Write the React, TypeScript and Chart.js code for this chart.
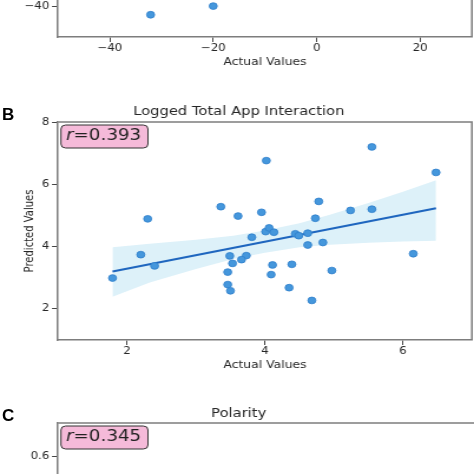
import React, { useEffect, useRef } from "react";
import { Chart, registerables } from "chart.js";

Chart.register(...registerables);
Chart.defaults.font.family = "'DejaVu Sans', sans-serif";

// ---------- data ----------
// Panel A (only its bottom strip is visible)
const A_X = [-32.1, -20.0];
const A_Y = [-42.8, -39.8];
const A_X_TICKS = [-40, -20, 0, 20];
const A_Y_TICKS = [-40, -20, 0, 20];

// Panel B
const B_TITLE = "Logged Total App Interaction";
const B_X = [1.79, 2.2, 2.3, 2.4, 3.36, 3.61, 3.95, 4.78, 4.73, 3.81, 4.01, 4.06, 4.13, 4.44, 4.49, 4.62, 4.62, 4.84, 3.49, 3.73, 3.66, 3.53, 3.46, 4.11, 4.39, 4.09, 4.97, 3.46, 3.5, 4.35, 4.68, 5.55, 4.02, 6.48, 5.24, 5.55, 6.15];
const B_Y = [2.99, 3.74, 4.89, 3.38, 5.28, 4.98, 5.1, 5.45, 4.91, 4.3, 4.48, 4.6, 4.46, 4.41, 4.35, 4.43, 4.05, 4.13, 3.7, 3.71, 3.58, 3.46, 3.18, 3.41, 3.43, 3.1, 3.23, 2.78, 2.58, 2.68, 2.27, 7.2, 6.76, 6.38, 5.16, 5.2, 3.77];
const B_LINE_X = [1.79, 6.48];
const B_LINE_Y = [3.2, 5.23];
const B_BAND_X = [1.79, 2.33, 3.0, 3.54, 4.0, 4.5, 4.94, 5.5, 6.0, 6.48];
const B_BAND_UPPER = [3.98, 4.09, 4.22, 4.35, 4.52, 4.75, 5.02, 5.4, 5.76, 6.13];
const B_BAND_LOWER = [2.39, 2.85, 3.28, 3.6, 3.8, 3.98, 4.06, 4.12, 4.16, 4.19];
const B_R = "0.393";
const B_X_TICKS = [2, 4, 6];
const B_Y_TICKS = [2, 4, 6, 8];

// Panel C (only its top strip is visible)
const C_TITLE = "Polarity";
const C_R = "0.345";
const C_X_TICKS = [-0.5, 0, 0.5];
const C_Y_TICKS = [-0.4, -0.2, 0, 0.2, 0.4, 0.6];

const X_LABEL = "Actual Values";
const Y_LABEL = "Predicted Values";

// ---------- rendering ----------
const STRETCH = 474 / 402; // horizontal stretch of the whole figure
const CW = 405; // canvas width (the part past 474px is clipped)
const CH = 280;

function fmt(v: number): string {
  const s = String(Math.round(Math.abs(v) * 100) / 100);
  return v < 0 ? "\u2212" + s : s;
}

const zip = (xs: number[], ys: number[]) => xs.map((x, i) => ({ x, y: ys[i] }));

const SPINE = "#7d7d7d";

const framePlugin = {
  id: "frame",
  afterDatasetsDraw(chart: any, _args: any, opts: any) {
    const { ctx, chartArea } = chart;
    const { left, top, right, bottom } = chartArea;
    ctx.save();
    ctx.strokeStyle = SPINE;
    ctx.lineWidth = 1.5;
    ctx.beginPath();
    ctx.moveTo(left, top);
    ctx.lineTo(right, top);
    ctx.lineTo(right, bottom);
    ctx.stroke();
    if (opts && opts.r) {
      const bx = left + 2.5;
      const by = top + 3;
      const bw = 73.8;
      const bh = 23;
      ctx.beginPath();
      ctx.roundRect(bx, by, bw, bh, 4);
      ctx.fillStyle = "#f5bad9";
      ctx.fill();
      ctx.strokeStyle = "#333333";
      ctx.lineWidth = 1;
      ctx.stroke();
      ctx.fillStyle = "#222222";
      ctx.textBaseline = "middle";
      ctx.textAlign = "left";
      const ty = by + 10.5;
      let tx = bx + 4.3;
      ctx.font = "italic 15.5px 'DejaVu Sans', sans-serif";
      ctx.fillText("r", tx, ty);
      tx += ctx.measureText("r").width;
      ctx.font = "15.5px 'DejaVu Sans', sans-serif";
      ctx.fillText("=" + opts.r, tx, ty);
    }
    ctx.restore();
  },
};

type Spec = {
  title?: string;
  points: { x: number; y: number }[];
  line?: { x: number; y: number }[];
  upper?: { x: number; y: number }[];
  lower?: { x: number; y: number }[];
  xMin: number;
  xMax: number;
  yMin: number;
  yMax: number;
  xTicks: number[];
  yTicks: number[];
  r?: string;
  titlePad?: { top: number; bottom: number };
};

function buildConfig(spec: Spec): any {
  const datasets: any[] = [
    {
      type: "scatter",
      data: spec.points,
      pointRadius: 3.4,
      pointBackgroundColor: "#4597dc",
      pointBorderColor: "#2f7fcb",
      pointBorderWidth: 0.8,
      order: 0,
    },
  ];
  if (spec.line) {
    datasets.push({
      type: "line",
      data: spec.line,
      showLine: true,
      borderColor: "#1f66bf",
      borderWidth: 2,
      pointRadius: 0,
      fill: false,
      order: 1,
    });
  }
  if (spec.upper && spec.lower) {
    datasets.push({
      type: "line",
      data: spec.upper,
      showLine: true,
      borderColor: "rgba(0,0,0,0)",
      borderWidth: 0,
      pointRadius: 0,
      fill: "+1",
      backgroundColor: "#ddf1f9",
      order: 2,
    });
    datasets.push({
      type: "line",
      data: spec.lower,
      showLine: true,
      borderColor: "rgba(0,0,0,0)",
      borderWidth: 0,
      pointRadius: 0,
      fill: false,
      order: 3,
    });
  }
  const textColor = "#262626";
  return {
    type: "scatter",
    data: { datasets },
    options: {
      responsive: false,
      maintainAspectRatio: false,
      animation: false,
      layout: { padding: { left: 0, right: 0, top: spec.title ? 0 : 27, bottom: 0 } },
      plugins: {
        legend: { display: false },
        tooltip: { enabled: false },
        title: spec.title
          ? {
              display: true,
              text: spec.title,
              color: textColor,
              font: { size: 12.5, weight: "normal" },
              padding: spec.titlePad,
            }
          : { display: false },
        frame: { r: spec.r },
      },
      scales: {
        x: {
          type: "linear",
          min: spec.xMin,
          max: spec.xMax,
          afterBuildTicks: (s: any) => {
            s.ticks = spec.xTicks.map((v) => ({ value: v }));
          },
          afterFit: (s: any) => {
            s.height = 35;
          },
          ticks: {
            callback: (v: number) => fmt(v),
            font: { size: 10 },
            color: textColor,
            padding: 0,
            maxRotation: 0,
            autoSkip: false,
          },
          grid: {
            display: true,
            drawOnChartArea: false,
            drawTicks: true,
            tickLength: 5,
            tickColor: "#444",
            tickWidth: 1,
          },
          border: { display: true, color: SPINE, width: 1.5 },
          title: {
            display: true,
            text: X_LABEL,
            color: textColor,
            font: { size: 10.5 },
            padding: { top: 0, bottom: 3.7 },
          },
        },
        y: {
          type: "linear",
          min: spec.yMin,
          max: spec.yMax,
          afterBuildTicks: (s: any) => {
            s.ticks = spec.yTicks.map((v) => ({ value: v }));
          },
          afterFit: (s: any) => {
            s.width = 49.2;
          },
          ticks: {
            callback: (v: number) => fmt(v),
            font: { size: 10 },
            color: textColor,
            padding: 2.3,
            autoSkip: false,
          },
          grid: {
            display: true,
            drawOnChartArea: false,
            drawTicks: true,
            tickLength: 5.1,
            tickColor: "#444",
            tickWidth: 1,
          },
          border: { display: true, color: SPINE, width: 1.5 },
          title: {
            display: true,
            text: Y_LABEL,
            color: textColor,
            font: { size: 10 },
            padding: { top: 19.6, bottom: 0 },
          },
        },
      },
    },
    plugins: [framePlugin],
  };
}

function Panel({ spec, top }: { spec: Spec; top: number }) {
  const ref = useRef<HTMLCanvasElement | null>(null);
  useEffect(() => {
    if (!ref.current) return;
    const chart = new Chart(ref.current, buildConfig(spec));
    return () => chart.destroy();
  }, []);
  return (
    <div
      style={{
        position: "absolute",
        left: 0,
        top,
        width: CW,
        height: CH,
        transform: `scaleX(${STRETCH})`,
        transformOrigin: "0 0",
      }}
    >
      <canvas ref={ref} width={CW} height={CH} style={{ display: "block" }} />
    </div>
  );
}

const specA: Spec = {
  points: zip(A_X, A_Y),
  xMin: -50,
  xMax: 30,
  yMin: -50.5,
  yMax: 25,
  xTicks: A_X_TICKS,
  yTicks: A_Y_TICKS,
};

const specB: Spec = {
  title: B_TITLE,
  points: zip(B_X, B_Y),
  line: zip(B_LINE_X, B_LINE_Y),
  upper: zip(B_BAND_X, B_BAND_UPPER),
  lower: zip(B_BAND_X, B_BAND_LOWER),
  xMin: 1,
  xMax: 7,
  yMin: 1,
  yMax: 8,
  xTicks: B_X_TICKS,
  yTicks: B_Y_TICKS,
  r: B_R,
  titlePad: { top: 9, bottom: 3 },
};

const specC: Spec = {
  title: C_TITLE,
  points: [],
  xMin: -0.6,
  xMax: 0.8,
  yMin: -0.45,
  yMax: 0.79,
  xTicks: C_X_TICKS,
  yTicks: C_Y_TICKS,
  r: C_R,
  titlePad: { top: 10, bottom: 2 },
};

const letterStyle: React.CSSProperties = {
  position: "absolute",
  left: 2,
  fontFamily: "'Liberation Sans', Arial, sans-serif",
  fontWeight: 900,
  fontSize: 17,
  lineHeight: "17px",
  color: "#000",
};

export default function App() {
  return (
    <div
      style={{
        position: "fixed",
        left: 0,
        top: 0,
        width: 474,
        height: 474,
        overflow: "hidden",
        background: "#fff",
      }}
    >
      <Panel spec={specA} top={-208} />
      <Panel spec={specB} top={95} />
      <Panel spec={specC} top={396} />
      <div style={{ ...letterStyle, top: 106 }}>B</div>
      <div style={{ ...letterStyle, top: 407 }}>C</div>
    </div>
  );
}
